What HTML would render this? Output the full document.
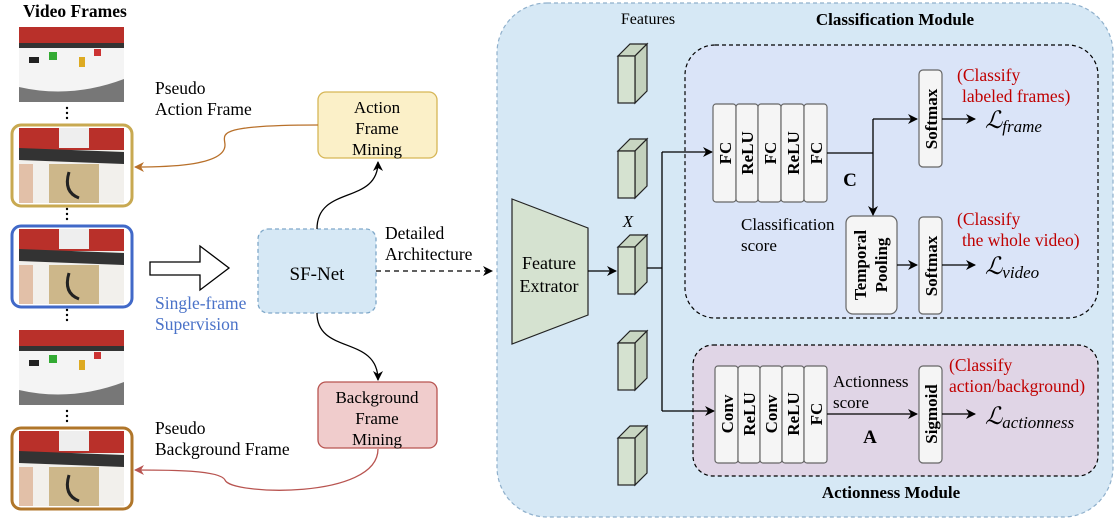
<!DOCTYPE html>
<html><head><meta charset="utf-8"><style>
html,body{margin:0;padding:0;background:#fff;}
svg{display:block;font-family:"Liberation Serif",serif;}
</style></head><body>
<svg width="1116" height="527" viewBox="0 0 1116 527" xmlns="http://www.w3.org/2000/svg">
<defs>
<marker id="ak" markerWidth="10" markerHeight="10" refX="9" refY="5" orient="auto" markerUnits="userSpaceOnUse"><path d="M0,0 L10,5 L0,10 L3,5 z" fill="#000"/></marker>
<marker id="ao" markerWidth="10" markerHeight="10" refX="9" refY="5" orient="auto" markerUnits="userSpaceOnUse"><path d="M0,0 L10,5 L0,10 L3,5 z" fill="#b8702a"/></marker>
<marker id="ar" markerWidth="10" markerHeight="10" refX="9" refY="5" orient="auto" markerUnits="userSpaceOnUse"><path d="M0,0 L10,5 L0,10 L3,5 z" fill="#b85450"/></marker>
<g id="close">
<rect width="105" height="75" fill="#f2f0ec"/>
<rect width="105" height="22" fill="#b9302a"/>
<rect x="40" y="0" width="30" height="20" fill="#eeeeee"/>
<path d="M0,20 L105,24 L105,36 L0,32 z" fill="#333"/>
<rect x="30" y="36" width="50" height="39" fill="#cdb78a"/>
<path d="M50,44 q-6,20 10,26" stroke="#222" stroke-width="3" fill="none"/>
<rect x="0" y="36" width="14" height="39" fill="#e2c0a8"/>
</g>
<g id="table">
<rect width="105" height="75" fill="#f4f4f4"/>
<rect width="105" height="18" fill="#b9302a"/>
<rect x="0" y="16" width="105" height="5" fill="#333"/>
<path d="M0,60 Q52,72 105,52 L105,75 L0,75 z" fill="#777"/>
<rect x="30" y="25" width="8" height="8" fill="#3a3"/>
<rect x="60" y="30" width="6" height="10" fill="#da2"/>
<rect x="10" y="30" width="10" height="6" fill="#222"/>
<rect x="75" y="22" width="7" height="7" fill="#c33"/>
</g>
</defs>

<text x="23" y="17" font-size="17.5" font-weight="bold">Video Frames</text>
<use href="#table" x="19" y="27"/>
<use href="#close" x="19" y="128"/>
<use href="#close" x="19" y="229"/>
<use href="#table" x="19" y="330"/>
<use href="#close" x="19" y="431"/>
<rect x="12" y="125" width="120" height="81" rx="9" fill="none" stroke="#c8a951" stroke-width="3"/>
<rect x="12" y="226" width="120" height="81" rx="9" fill="none" stroke="#4169c8" stroke-width="3"/>
<rect x="12" y="428" width="120" height="81" rx="9" fill="none" stroke="#b0762a" stroke-width="3"/>
<g fill="#000">
<circle cx="67" cy="108" r="1.2"/><circle cx="67" cy="113" r="1.2"/><circle cx="67" cy="118" r="1.2"/>
<circle cx="67" cy="209" r="1.2"/><circle cx="67" cy="214" r="1.2"/><circle cx="67" cy="219" r="1.2"/>
<circle cx="67" cy="310" r="1.2"/><circle cx="67" cy="315" r="1.2"/><circle cx="67" cy="320" r="1.2"/>
<circle cx="67" cy="411" r="1.2"/><circle cx="67" cy="416" r="1.2"/><circle cx="67" cy="421" r="1.2"/>
</g>

<g font-size="17.5">
<text x="155" y="94">Pseudo</text><text x="155" y="115">Action Frame</text>
<text x="155" y="434">Pseudo</text><text x="155" y="455">Background Frame</text>
<text x="155" y="309" fill="#4a72c8">Single-frame</text><text x="155" y="330" fill="#4a72c8">Supervision</text>
<text x="385" y="239">Detailed</text><text x="385" y="260">Architecture</text>
</g>
<path d="M150,262 L200,262 L200,246 L229,268 L200,290 L200,275 L150,275 z" fill="#fff" stroke="#000" stroke-width="1.3"/>

<rect x="318" y="92" width="119" height="66" rx="8" fill="#fbf0c8" stroke="#d6b656" stroke-width="1.3"/>
<text x="377" y="113" font-size="17" text-anchor="middle">Action</text>
<text x="377" y="134" font-size="17" text-anchor="middle">Frame</text>
<text x="377" y="155" font-size="17" text-anchor="middle">Mining</text>
<rect x="318" y="382" width="119" height="66" rx="8" fill="#f0cccc" stroke="#b85450" stroke-width="1.3"/>
<text x="377" y="403" font-size="17" text-anchor="middle">Background</text>
<text x="377" y="424" font-size="17" text-anchor="middle">Frame</text>
<text x="377" y="445" font-size="17" text-anchor="middle">Mining</text>
<rect x="258" y="229" width="118" height="84" rx="10" fill="#d6e8f5" stroke="#7fa8c9" stroke-width="1.3" stroke-dasharray="4,3"/>
<text x="317" y="280" font-size="19" text-anchor="middle">SF-Net</text>

<path d="M317,229 C317,185 378,205 378,162" fill="none" stroke="#000" stroke-width="1.3" marker-end="url(#ak)"/>
<path d="M317,313 C317,355 378,335 378,380" fill="none" stroke="#000" stroke-width="1.3" marker-end="url(#ak)"/>
<path d="M318,125 C210,125 225,135 225,145 C225,167 160,167 135,167" fill="none" stroke="#b8702a" stroke-width="1.3" marker-end="url(#ao)"/>
<path d="M378,449 C378,500 230,495 225,480 C220,470 170,470 135,470" fill="none" stroke="#b85450" stroke-width="1.3" marker-end="url(#ar)"/>
<path d="M376,271 L492,271" stroke="#000" stroke-width="1.3" stroke-dasharray="5,4" fill="none" marker-end="url(#ak)"/>

<rect x="497" y="3" width="616" height="514" rx="50" fill="#d6e8f5" stroke="#8fb0cc" stroke-width="1.2" stroke-dasharray="4,3"/>
<text x="895" y="25" font-size="17" font-weight="bold" text-anchor="middle">Classification Module</text>
<text x="891" y="498" font-size="17" font-weight="bold" text-anchor="middle">Actionness Module</text>
<text x="648" y="24" font-size="16" text-anchor="middle">Features</text>
<rect x="685" y="45" width="413" height="273" rx="30" fill="#dae4f8" stroke="#000" stroke-width="1.2" stroke-dasharray="4,3"/>
<rect x="693" y="345" width="405" height="131" rx="20" fill="#e0d5e6" stroke="#000" stroke-width="1.2" stroke-dasharray="4,3"/>

<g fill="#d5e2d0" stroke="#222" stroke-width="1.2">
<g transform="translate(0,0)"><path d="M618,56 L630,44 L647,44 L635,56 z" fill="#c8d6c2"/><path d="M635,56 L647,44 L647,91 L635,103 z" fill="#c3d1bd"/><rect x="618" y="56" width="17" height="47"/></g>
<g transform="translate(0,95)"><path d="M618,56 L630,44 L647,44 L635,56 z" fill="#c8d6c2"/><path d="M635,56 L647,44 L647,91 L635,103 z" fill="#c3d1bd"/><rect x="618" y="56" width="17" height="47"/></g>
<g transform="translate(0,191)"><path d="M618,56 L630,44 L647,44 L635,56 z" fill="#c8d6c2"/><path d="M635,56 L647,44 L647,91 L635,103 z" fill="#c3d1bd"/><rect x="618" y="56" width="17" height="47"/></g>
<g transform="translate(0,287)"><path d="M618,56 L630,44 L647,44 L635,56 z" fill="#c8d6c2"/><path d="M635,56 L647,44 L647,91 L635,103 z" fill="#c3d1bd"/><rect x="618" y="56" width="17" height="47"/></g>
<g transform="translate(0,382)"><path d="M618,56 L630,44 L647,44 L635,56 z" fill="#c8d6c2"/><path d="M635,56 L647,44 L647,91 L635,103 z" fill="#c3d1bd"/><rect x="618" y="56" width="17" height="47"/></g>
</g>
<text x="628" y="227" font-size="17" font-style="italic" text-anchor="middle">X</text>
<path d="M512,199 L588,228 L588,315 L512,344 z" fill="#d5e2d0" stroke="#222" stroke-width="1.2"/>
<text x="549" y="269" font-size="18" text-anchor="middle">Feature</text>
<text x="549" y="292" font-size="18" text-anchor="middle">Extrator</text>
<path d="M588,271 L616,271" stroke="#000" stroke-width="1.3" marker-end="url(#ak)"/>
<path d="M647,268 L662,268 M662,152 L662,411" stroke="#000" stroke-width="1.3" fill="none"/>
<path d="M662,152 L712,152" stroke="#000" stroke-width="1.3" marker-end="url(#ak)"/>
<path d="M662,411 L714,411" stroke="#000" stroke-width="1.3" marker-end="url(#ak)"/>

<g fill="#f5f5f5" stroke="#666" stroke-width="1.2">
<rect x="713" y="104" width="23" height="98" rx="3"/><rect x="736" y="104" width="22" height="98" rx="3"/><rect x="758" y="104" width="23" height="98" rx="3"/><rect x="781" y="104" width="23" height="98" rx="3"/><rect x="804" y="104" width="23" height="98" rx="3"/>
<rect x="715" y="366" width="23" height="97" rx="3"/><rect x="738" y="366" width="22" height="97" rx="3"/><rect x="760" y="366" width="22" height="97" rx="3"/><rect x="782" y="366" width="22" height="97" rx="3"/><rect x="804" y="366" width="23" height="97" rx="3"/>
<rect x="919" y="70" width="23" height="97" rx="4"/><rect x="919" y="217" width="23" height="97" rx="4"/><rect x="846" y="216" width="51" height="98" rx="7"/><rect x="919" y="366" width="23" height="97" rx="4"/>
</g>
<g font-size="17" font-weight="bold" text-anchor="middle">
<text transform="translate(731,153) rotate(-90)">FC</text>
<text transform="translate(753,153) rotate(-90)">ReLU</text>
<text transform="translate(776,153) rotate(-90)">FC</text>
<text transform="translate(799,153) rotate(-90)">ReLU</text>
<text transform="translate(822,153) rotate(-90)">FC</text>
<text transform="translate(733,414) rotate(-90)">Conv</text>
<text transform="translate(755,414) rotate(-90)">ReLU</text>
<text transform="translate(777,414) rotate(-90)">Conv</text>
<text transform="translate(799,414) rotate(-90)">ReLU</text>
<text transform="translate(822,414) rotate(-90)">FC</text>
<text transform="translate(937,119) rotate(-90)">Softmax</text>
<text transform="translate(937,266) rotate(-90)">Softmax</text>
<text transform="translate(937,414) rotate(-90)">Sigmoid</text>
<text transform="translate(866,265) rotate(-90)">Temporal</text>
<text transform="translate(887,265) rotate(-90)">Pooling</text>
<text x="850" y="186" font-size="19">C</text>
<text x="870" y="443" font-size="19">A</text>
</g>
<path d="M827,153 L873,153 M873,119 L873,153" stroke="#000" stroke-width="1.3" fill="none"/>
<path d="M873,119 L917,119" stroke="#000" stroke-width="1.3" marker-end="url(#ak)"/>
<path d="M873,153 L873,215" stroke="#000" stroke-width="1.3" marker-end="url(#ak)"/>
<path d="M897,265 L917,265" stroke="#000" stroke-width="1.3" marker-end="url(#ak)"/>
<path d="M942,119 L975,119" stroke="#000" stroke-width="1.3" marker-end="url(#ak)"/>
<path d="M942,265 L975,265" stroke="#000" stroke-width="1.3" marker-end="url(#ak)"/>
<path d="M827,414 L917,414" stroke="#000" stroke-width="1.3" marker-end="url(#ak)"/>
<path d="M942,414 L975,414" stroke="#000" stroke-width="1.3" marker-end="url(#ak)"/>
<g font-size="17">
<text x="741" y="230">Classification</text><text x="741" y="251">score</text>
<text x="833" y="387">Actionness</text><text x="833" y="408">score</text>
</g>
<g font-size="17.5" fill="#c00000">
<text x="957" y="81">(Classify</text><text x="962" y="102">labeled frames)</text>
<text x="957" y="225">(Classify</text><text x="962" y="246">the whole video)</text>
<text x="949" y="371">(Classify</text><text x="949" y="392">action/background)</text>
</g>
<g font-style="italic">
<text x="985" y="128" font-size="24">ℒ<tspan font-size="17" dy="4">frame</tspan></text>
<text x="985" y="274" font-size="24">ℒ<tspan font-size="17" dy="4">video</tspan></text>
<text x="985" y="424" font-size="24">ℒ<tspan font-size="17" dy="4">actionness</tspan></text>
</g>
</svg>
</body></html>
